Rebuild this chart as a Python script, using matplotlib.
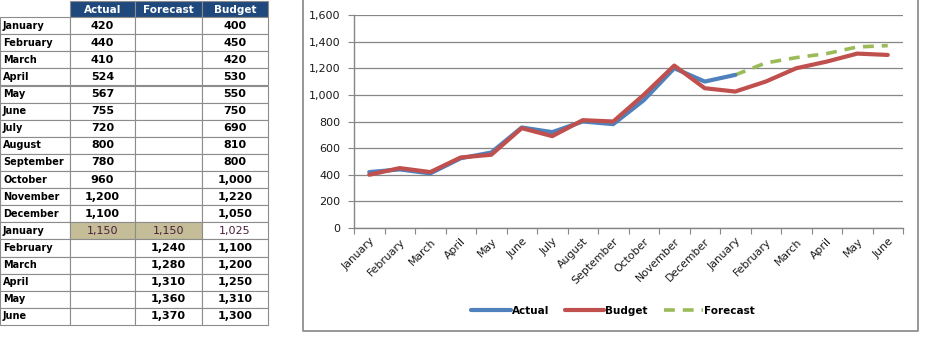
import matplotlib
matplotlib.use('Agg')
import matplotlib.pyplot as plt
import matplotlib.patches as patches
import numpy as np

months = ['January', 'February', 'March', 'April', 'May', 'June', 'July',
          'August', 'September', 'October', 'November', 'December',
          'January', 'February', 'March', 'April', 'May', 'June']
actual = [420, 440, 410, 524, 567, 755, 720, 800, 780, 960, 1200, 1100, 1150]
forecast = [1150, 1240, 1280, 1310, 1360, 1370]
budget = [400, 450, 420, 530, 550, 750, 690, 810, 800, 1000, 1220, 1050,
          1025, 1100, 1200, 1250, 1310, 1300]
headers = ['Actual', 'Forecast', 'Budget']
yticks = [0, 200, 400, 600, 800, 1000, 1200, 1400, 1600]

W, H = 935, 359
fig = plt.figure(figsize=(W / 100, H / 100), dpi=100)
fig.patch.set_facecolor('white')

# overlay in pixel coords for the table and chart frame
bg = fig.add_axes([0, 0, 1, 1])
bg.set_xlim(0, W)
bg.set_ylim(H, 0)
bg.axis('off')

grid_c = '#8c8c8c'
col_x = [0, 70, 135, 202, 268]
row_h = 17.1
top = 1

# header
for j, name in enumerate(headers):
    x0, x1 = col_x[j + 1], col_x[j + 2]
    bg.add_patch(patches.Rectangle((x0, top), x1 - x0, row_h - 1,
                                   facecolor='#1F497D', edgecolor=grid_c, lw=0.8))
    bg.text((x0 + x1) / 2, top + row_h / 2, name, color='white',
            fontsize=7.5, fontweight='bold', ha='center', va='center')

# rows
fc_start = len(actual) - 1
for i, m in enumerate(months):
    y0 = top + row_h * (i + 1) - 1
    vals = [actual[i] if i < len(actual) else None,
            forecast[i - fc_start] if i >= fc_start else None,
            budget[i]]
    highlight = i == fc_start
    bg.add_patch(patches.Rectangle((col_x[0], y0), col_x[1] - col_x[0], row_h,
                                   facecolor='white', edgecolor=grid_c, lw=0.8))
    bg.text(3, y0 + row_h / 2, m, fontsize=7, fontweight='bold',
            ha='left', va='center', color='black')
    for j, v in enumerate(vals):
        x0, x1 = col_x[j + 1], col_x[j + 2]
        fc = '#C4BD97' if (highlight and j < 2) else 'white'
        bg.add_patch(patches.Rectangle((x0, y0), x1 - x0, row_h,
                                       facecolor=fc, edgecolor=grid_c, lw=0.8))
        if v is not None:
            if highlight:
                bg.text((x0 + x1) / 2, y0 + row_h / 2, f'{v:,}', fontsize=8,
                        ha='center', va='center', color='#4a1e3c')
            else:
                bg.text((x0 + x1) / 2, y0 + row_h / 2, f'{v:,}', fontsize=8,
                        fontweight='bold', ha='center', va='center', color='black')

# chart frame
frame_c = '#868686'
bg.plot([303, 303, 918, 918], [-2, 331, 331, -2], color=frame_c, lw=1.2)

# chart
ax = fig.add_axes([354 / W, (H - 228) / H, 549 / W, 213 / H])
x = np.arange(len(months))
ax.plot(x[:len(actual)], actual, color='#4F81BD', lw=3, label='Actual',
        solid_capstyle='round', zorder=3)
ax.plot(x, budget, color='#C0504D', lw=3, label='Budget',
        solid_capstyle='round', zorder=4)
ax.plot(x[fc_start:], forecast, color='#9BBB59', lw=2.6, ls=(0, (3, 2.2)),
        label='Forecast', zorder=2)

ax.set_xlim(-0.5, len(months) - 0.5)
ax.set_ylim(0, 1600)
ax.set_yticks(yticks)
ax.set_yticklabels([f'{v:,}' for v in yticks], fontsize=8, color='#1a1a1a')
ax.set_xticks(np.arange(len(months) + 1) - 0.5)
ax.set_xticklabels([])
ax.set_xticks(x, minor=True)
ax.set_xticklabels(months, minor=True, rotation=45, ha='right',
                   rotation_mode='anchor', fontsize=7.8, color='#1a1a1a')
ax.tick_params(axis='x', which='minor', length=0, pad=6)
ax.tick_params(axis='x', which='major', length=4, color=frame_c, direction='out')
ax.tick_params(axis='y', length=4, color=frame_c, direction='out', pad=6)
ax.grid(axis='y', color=frame_c, lw=0.9)
ax.set_axisbelow(True)
for s in ['top', 'right']:
    ax.spines[s].set_visible(False)
for s in ['left', 'bottom']:
    ax.spines[s].set_color(frame_c)
    ax.spines[s].set_linewidth(1)

leg = fig.legend(loc='center', bbox_to_anchor=(613 / W, 1 - 311 / H), ncol=3,
                 frameon=False, handlelength=3.8, columnspacing=1.5,
                 handletextpad=0.1, prop={'size': 7.5, 'weight': 'bold'})

fig.savefig('out.png', dpi=100, facecolor='white')
